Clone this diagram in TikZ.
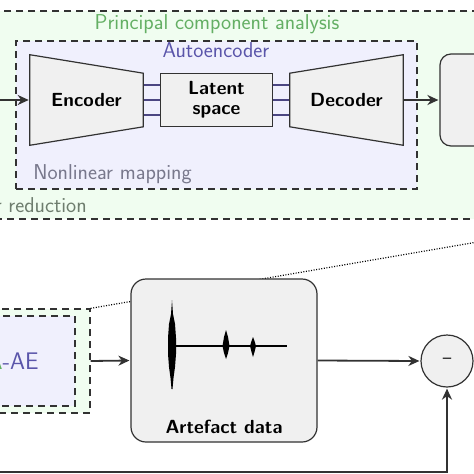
\documentclass[tikz,border=0pt]{standalone}
\usepackage{amsmath}
\usetikzlibrary{arrows.meta}

\definecolor{pcagreen}{RGB}{100,175,100}
\definecolor{pcafill}{RGB}{240,253,240}
\definecolor{pcagray}{RGB}{110,125,110}
\definecolor{aeblue}{RGB}{90,85,170}
\definecolor{aefill}{RGB}{240,240,253}
\definecolor{aegray}{RGB}{120,120,140}
\definecolor{linkpurple}{RGB}{75,70,130}
\definecolor{boxgray}{RGB}{240,240,240}
\definecolor{linegray}{RGB}{50,50,50}

\tikzset{
  boxtext/.style={inner sep=0pt,font=\fontsize{19}{20}\selectfont\sffamily\bfseries},
  block/.style={boxtext,draw=linegray,fill=boxgray,line width=1.2pt},
  coder/.style={inner sep=0pt,minimum width=113pt,minimum height=90pt},
  coderedge/.style={-,draw=linegray,fill=boxgray,line width=1.2pt},
  frame/.style={draw=linegray,line width=1.3pt,dash pattern=on 7pt off 5pt},
  pcabox/.style={frame,fill=pcafill},
  aebox/.style={frame,fill=aefill},
  note/.style={inner sep=0pt,font=\fontsize{21.5}{24}\selectfont\sffamily},
  link/.style={-,draw=linkpurple,line width=2pt},
  flow/.style={draw=linegray,line width=1.8pt}
}

\begin{document}
\begin{tikzpicture}[->,>={Stealth[length=11pt,width=10pt,inset=3.5pt]},shorten >=1pt,auto,node distance=130pt,x=1pt,y=-1pt,semithick]
  \clip (0,0) rectangle (474,474);

  % PCA / autoencoder frames
  \node[pcabox,minimum width=780pt,minimum height=208pt] (PCA) at (217,115) {};
  \node[aebox,minimum width=401pt,minimum height=148pt] (AE) at (216.5,115) {};
  \node[note,text=pcagreen] (PCAlbl) at (217,24) {Principal component analysis};
  \node[note,text=aeblue] (AElbl) at (216,49.9) {Autoencoder};
  \node[note,text=aegray,anchor=west] (AEnote) at (33,174.6) {Nonlinear mapping};
  \node[note,text=pcagray,anchor=east] (PCAnote) at (87,204.9) {Linear reduction};

  % autoencoder
  \node[coder] (Enc) at (86.5,100) {};
  \node[block,minimum width=112pt,minimum height=53pt,align=center] (Lat) [right of=Enc] {Latent\\space};
  \node[coder] (Dec) [right of=Lat] {};
  \draw[coderedge] (Enc.north west) -- ([yshift=-18.5pt]Enc.north east) -- ([yshift=18.5pt]Enc.south east) -- (Enc.south west) -- cycle;
  \draw[coderedge] ([yshift=-18.5pt]Dec.north west) -- (Dec.north east) -- (Dec.south east) -- ([yshift=18.5pt]Dec.south west) -- cycle;
  \node[boxtext] (EncTxt) at (Enc) {Encoder};
  \node[boxtext] (DecTxt) at (Dec) {Decoder};
  \node[block,rounded corners=11pt,minimum width=100pt,minimum height=92pt] (Rec) at (490,100) {};

  \foreach \dy in {-15,0,15} {
    \draw[link] ([yshift=\dy pt]Lat.west) -- ([yshift=\dy pt]Lat.west -| Enc.east);
    \draw[link] ([yshift=\dy pt]Lat.east) -- ([yshift=\dy pt]Lat.east -| Dec.west);
  }

  \coordinate (In) at (-20,100);
  \draw[flow] (In) -- (Enc.west);
  \draw[flow] (Dec.east) -- (Rec.west);

  % lower row
  \node[pcabox,minimum width=187pt,minimum height=104pt] (PCAs) at (-3.5,361) {};
  \node[aebox,minimum width=157pt,minimum height=90pt] (AEs) at (-3.5,361) {};
  \node[inner sep=0pt,font=\fontsize{24}{28}\selectfont\sffamily,text=aeblue,anchor=east] (PCAAE) at (39,361) {{\color{pcagreen}PCA}-AE};

  \draw[-,black,line width=1.2pt,dash pattern=on 1pt off 1.6pt] (PCAs.north east) -- (PCA.south east);

  \node[block,rounded corners=15pt,minimum width=186pt,minimum height=163pt] (Art) at (224,360.5) {};
  \node[boxtext] (ArtLbl) at (224,427.4) {Artefact data};

  % artefact trace
  \draw[-,black,line width=1.3pt] (172,346) -- (288,346);
  \fill (172,300) -- (173,314) -- (175,324) -- (176,338) -- (176,354) -- (175,367) -- (173.5,378) -- (172.5,389)
     -- (171.5,389) -- (170.5,378) -- (169,367) -- (168,354) -- (168,338) -- (169,324) -- (171,314) -- cycle;
  \fill (226,330) -- (228,337) -- (229.5,346) -- (228,353) -- (226,359) -- (224,353) -- (222.5,346) -- (224,337) -- cycle;
  \fill (253,337) -- (254.5,341) -- (256,346) -- (254.5,352) -- (253,357) -- (251.5,352) -- (250,346) -- (251.5,341) -- cycle;

  \node[block,circle,minimum size=52pt,font=\fontsize{18}{20}\selectfont\sffamily] (Sub) at (447,361) {--};

  \draw[flow] (PCAs.east) -- (Art.west);
  \draw[flow] (Art.east) -- (Sub.west);
  \coordinate (Out) at (500,361);
  \draw[flow] (Sub.east) -- (Out);

  \coordinate (Fb) at (-20,472);
  \draw[flow,line width=2.5pt] (Fb) -| (Sub.south);

\end{tikzpicture}
\end{document}
